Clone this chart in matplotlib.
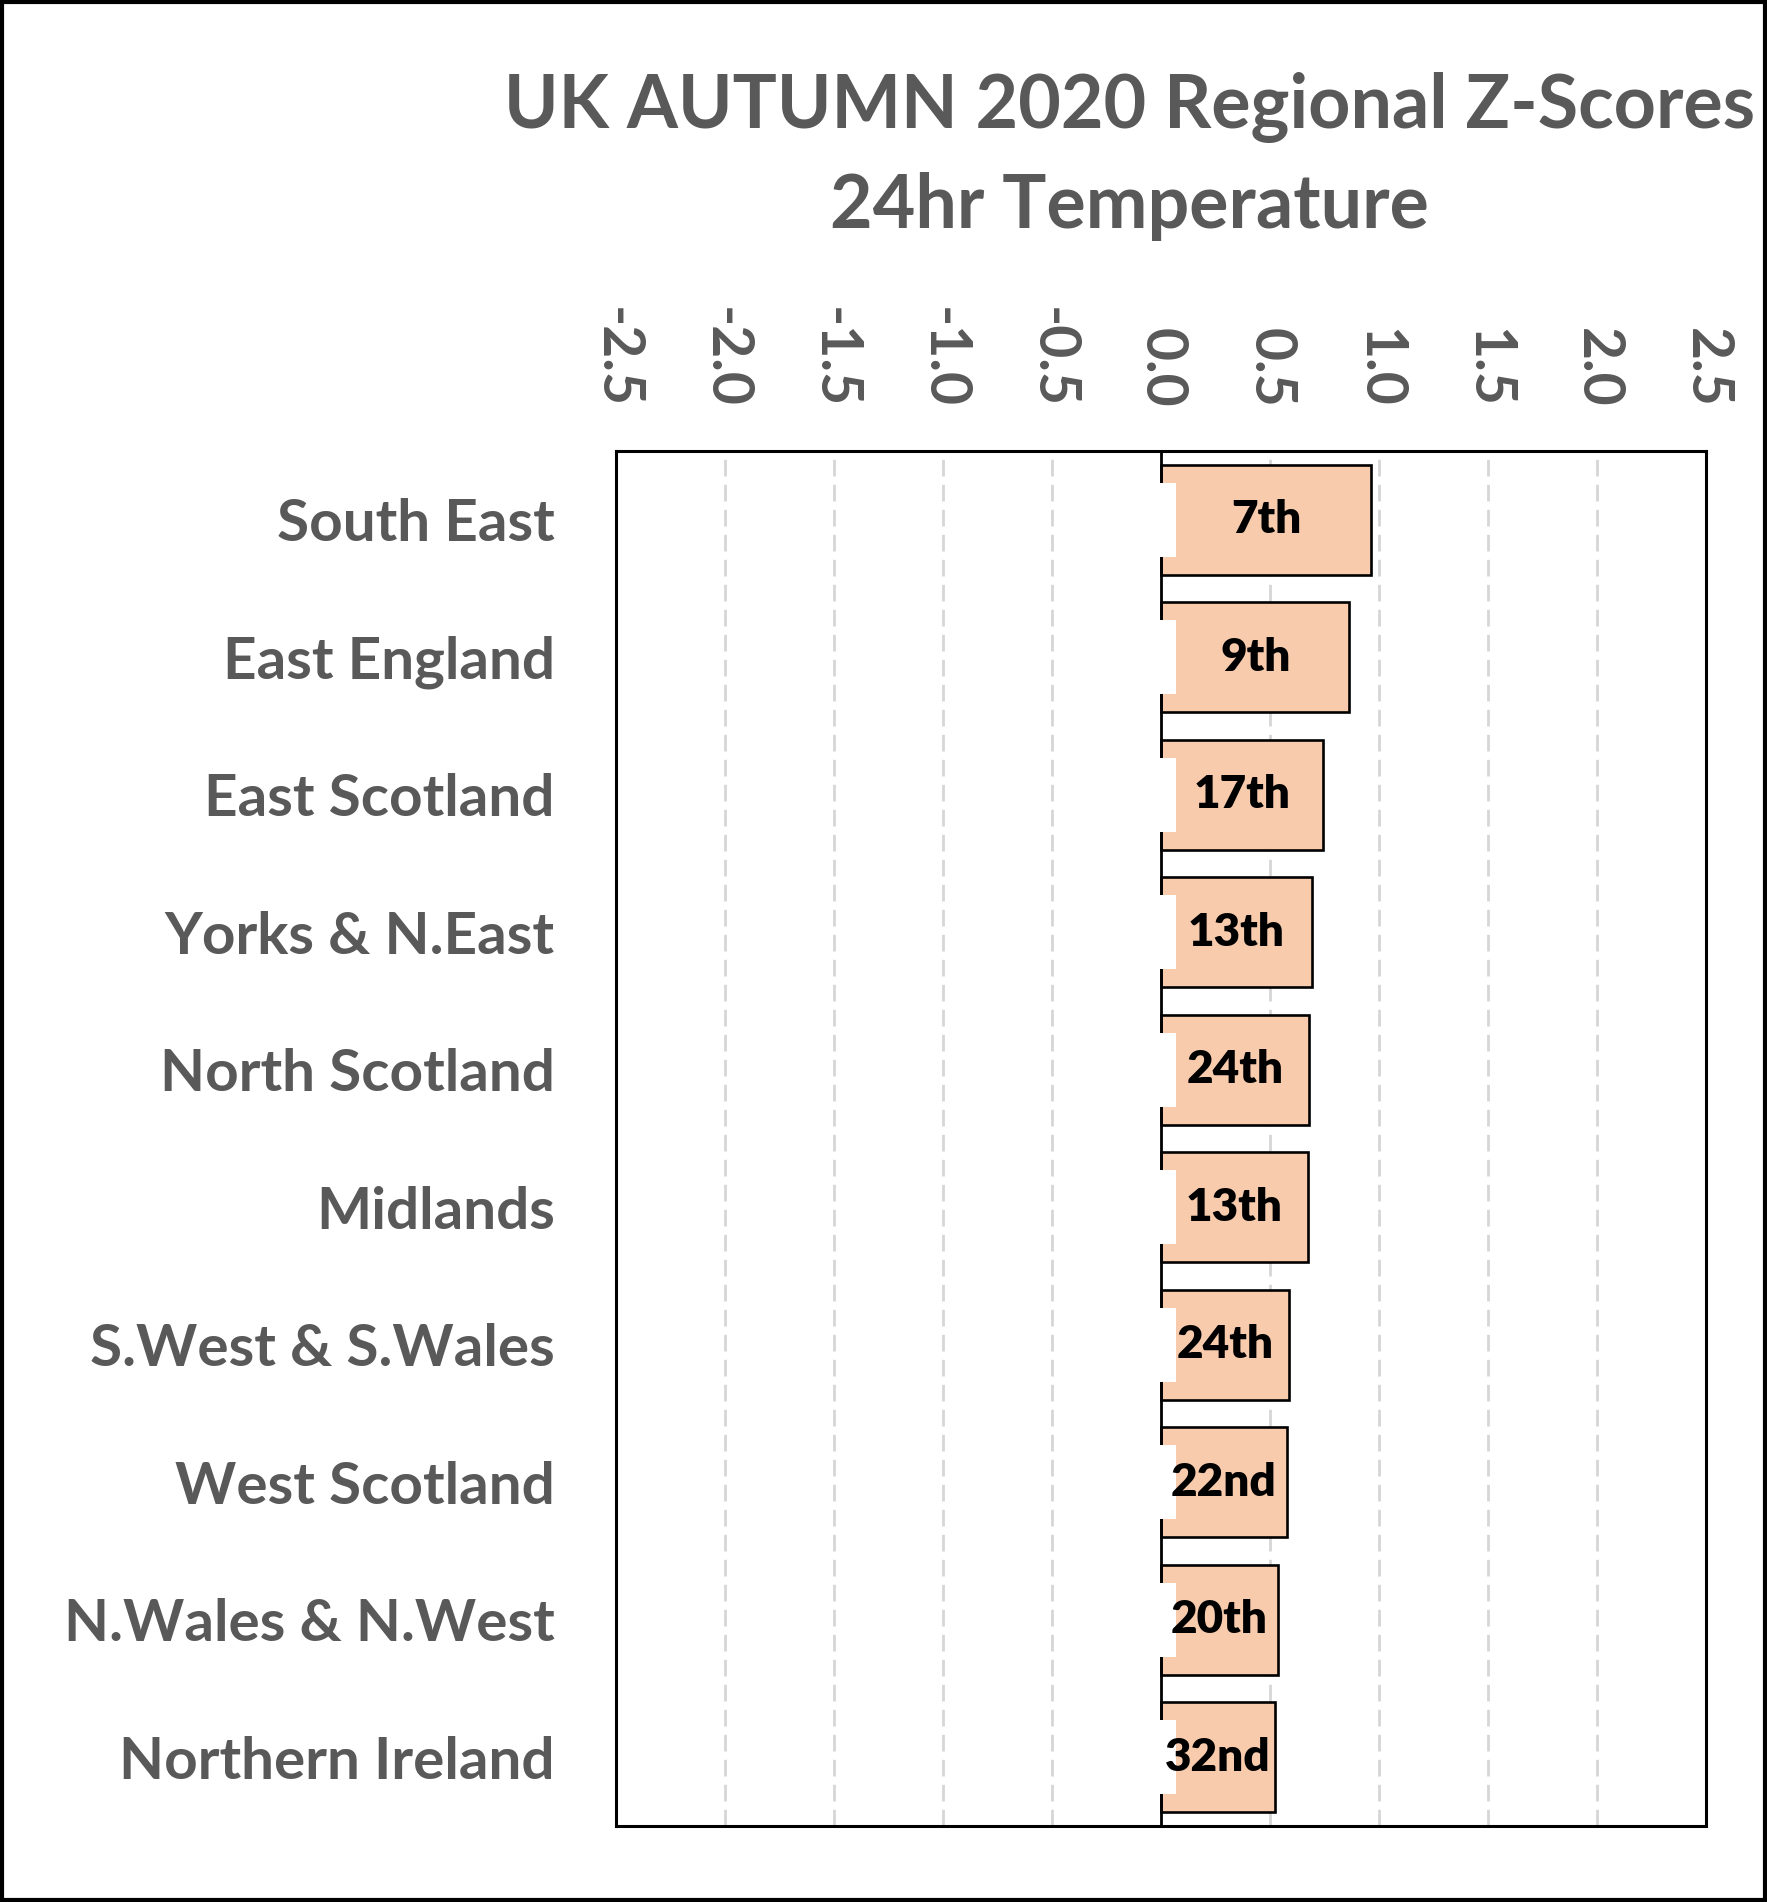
import numpy as np
import matplotlib
matplotlib.use("Agg")
import matplotlib.pyplot as plt
from matplotlib.patches import Rectangle

# data
regions = ["South East", "East England", "East Scotland", "Yorks & N.East",
           "North Scotland", "Midlands", "S.West & S.Wales", "West Scotland",
           "N.Wales & N.West", "Northern Ireland"]
zscores = [0.963, 0.864, 0.743, 0.691, 0.677, 0.674, 0.587, 0.577, 0.535, 0.522]
ranks = ["7th", "9th", "17th", "13th", "24th", "13th", "24th", "22nd", "20th", "32nd"]
xticks = [-2.5, -2.0, -1.5, -1.0, -0.5, 0.0, 0.5, 1.0, 1.5, 2.0, 2.5]

grey = "#595959"
fill = "#F8CBAD"
plt.rcParams["font.family"] = ["Lato", "DejaVu Sans"]
plt.rcParams["font.weight"] = "bold"

fig = plt.figure(figsize=(17.67, 19.02), dpi=100)
ax = fig.add_axes([0.3486, 0.0400, 0.6169, 0.7229])

pos = np.arange(len(regions))
ax.barh(pos, zscores, height=0.8, color=fill, edgecolor="black", linewidth=1.9, zorder=2)
# white label-box artefact at the left end of each bar
ax.barh(pos, 0.077, left=-0.008, height=0.54, color="white", linewidth=0, zorder=4)
ax.axvline(0, color="black", linewidth=2.0, zorder=3)

for p, v, r in zip(pos, zscores, ranks):
    ax.text(v / 2, p, r, ha="center", va="center", fontsize=33,
            fontweight="heavy", color="black", zorder=5)

ax.set_xlim(-2.5, 2.5)
ax.set_ylim(len(regions) - 0.5, -0.5)
ax.set_xticks(xticks)
ax.set_xticklabels(["{:.1f}".format(t) for t in xticks])
ax.xaxis.tick_top()
ax.tick_params(axis="x", length=0, pad=31, labelsize=41, labelcolor=grey, labelrotation=-90)
ax.set_yticks(pos)
ax.set_yticklabels(regions)
ax.tick_params(axis="y", length=0, pad=44, labelsize=42, labelcolor=grey)
for lab in ax.get_xticklabels() + ax.get_yticklabels():
    lab.set_fontweight("bold")

for t in xticks[1:-1]:
    if t != 0:
        ax.axvline(t, color="#D6D6D6", linewidth=2.0, dashes=(6, 3), zorder=1)

for s in ax.spines.values():
    s.set_linewidth(2.2)
    s.set_color("black")

fig.text(0.639, 1 - 128 / 1902, "UK AUTUMN 2020 Regional Z-Scores", ha="center",
         va="baseline", fontsize=53, fontweight="bold", color=grey)
fig.text(0.639, 1 - 228 / 1902, "24hr Temperature", ha="center",
         va="baseline", fontsize=53, fontweight="bold", color=grey)

fig.patches.append(Rectangle((0.001, 0.001), 0.998, 0.998, transform=fig.transFigure,
                             fill=False, edgecolor="black", linewidth=3))

fig.savefig("out.png", dpi=100)
